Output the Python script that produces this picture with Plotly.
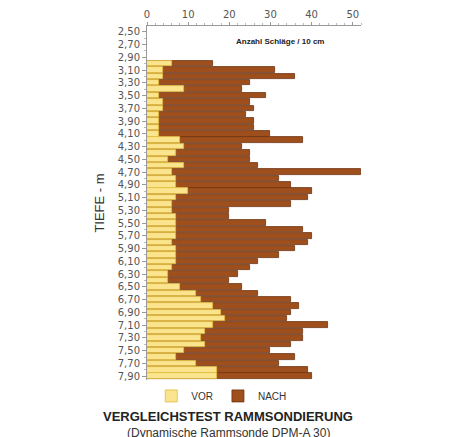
import plotly.graph_objects as go

depth = [round(3.0 + 0.1 * i, 2) for i in range(50)]
vor = [6,4,4,3,9,3,4,4,3,3,3,3,8,9,7,5,9,6,7,7,10,7,6,6,7,7,7,7,6,7,7,7,6,5,5,8,12,13,16,18,19,16,14,13,14,9,7,12,17,17]
nach = [16,31,36,25,23,29,25,26,24,26,26,30,38,23,25,25,27,52,32,35,40,39,35,20,20,29,38,40,39,36,32,27,25,22,20,23,27,35,37,35,34,44,38,38,35,30,36,32,39,40]
tick_vals = [round(2.5 + 0.2 * i, 2) for i in range(28)]
tick_text = [f"{v:.2f}".replace(".", ",") for v in tick_vals]

fig = go.Figure()
fig.add_trace(go.Bar(y=depth, x=nach, orientation="h", name="NACH", width=0.085,
                     marker=dict(color="#9e4f1c", line=dict(color="#6b3212", width=0.8))))
fig.add_trace(go.Bar(y=depth, x=vor, orientation="h", name="VOR", width=0.085,
                     marker=dict(color="#fbe48e", line=dict(color="#e2bd3c", width=0.8))))

tickfont = dict(family="DejaVu Sans", size=10, color="#555")
fig.update_layout(
    width=450, height=437, barmode="overlay", bargap=0,
    paper_bgcolor="white", plot_bgcolor="white",
    margin=dict(l=139, r=97, t=18, b=65),
    showlegend=True,
    legend=dict(orientation="h", x=0.02, y=-0.045, xanchor="left", yanchor="middle",
                traceorder="reversed", font=dict(family="Liberation Sans", size=10, color="#333"),
                itemwidth=30),
    xaxis=dict(side="top", range=[0, 52], tickvals=[0,10,20,30,40,50], tickfont=tickfont,
               automargin=False,
               showgrid=False, zeroline=False, showline=True, linecolor="#999",
               ticks="outside", ticklen=3, tickcolor="#999",
               minor=dict(dtick=2, ticks="outside", ticklen=2, tickcolor="#bbb")),
    yaxis=dict(range=[7.96, 2.41], tickvals=tick_vals, ticktext=tick_text, tickfont=tickfont,
               automargin=False,
               showgrid=False, zeroline=False, showline=True, linecolor="#999",
               ticks="outside", ticklen=4, tickcolor="#999",
               minor=dict(dtick=0.1, tick0=2.5, ticks="outside", ticklen=2, tickcolor="#bbb"),
               title=dict(text="TIEFE - m", font=dict(family="Liberation Sans", size=13, color="#333"), standoff=10)),
    annotations=[
        dict(text="<b>Anzahl Schläge / 10 cm</b>", x=0.62, xref="paper", y=0.975, yref="paper",
             showarrow=False, font=dict(family="Liberation Sans", size=8, color="#222"),
             xanchor="center", yanchor="top"),
        dict(text="<b>VERGLEICHSTEST RAMMSONDIERUNG</b>", x=0.38, xref="paper", y=-0.102, yref="paper",
             showarrow=False, font=dict(family="Liberation Sans", size=13, color="#222"),
             xanchor="center", yanchor="middle"),
        dict(text="(Dynamische Rammsonde DPM-A 30)", x=0.38, xref="paper", y=-0.15, yref="paper",
             showarrow=False, font=dict(family="Liberation Sans", size=12, color="#333"),
             xanchor="center", yanchor="middle"),
    ],
)
fig.write_html("out.html")
